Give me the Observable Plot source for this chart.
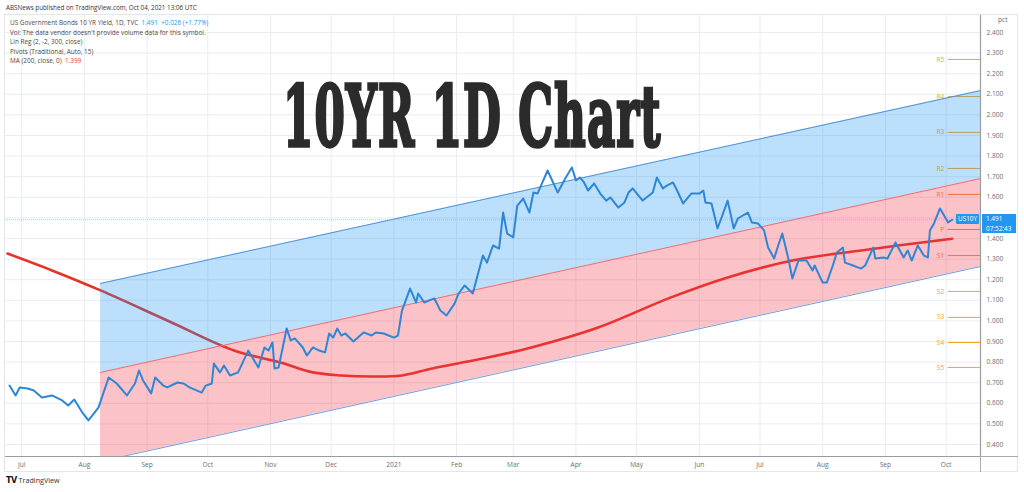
<!DOCTYPE html>
<html><head><meta charset="utf-8">
<script src="https://cdn.jsdelivr.net/npm/d3@7"></script>
<script src="https://cdn.jsdelivr.net/npm/@observablehq/plot@0.6"></script>
<style>
body{margin:0;background:#fff;font-family:"Open Sans",sans-serif;}
#wrap{position:relative;width:1024px;height:492px;overflow:hidden;background:#fff;}
.abs{position:absolute;white-space:nowrap;line-height:1;}
.small{font-size:6.4px;color:#4a4a4a;}
</style></head><body><div id="wrap"></div>
<script>
// ---- data ----
const priceDates = ["2020-06-25","2020-06-28","2020-06-30","2020-07-04","2020-07-07","2020-07-11","2020-07-16","2020-07-21","2020-07-24","2020-07-27","2020-07-31","2020-08-03","2020-08-06","2020-08-08","2020-08-13","2020-08-17","2020-08-22","2020-08-26","2020-08-28","2020-08-30","2020-09-03","2020-09-05","2020-09-09","2020-09-11","2020-09-16","2020-09-19","2020-09-22","2020-09-28","2020-09-30","2020-10-03","2020-10-04","2020-10-07","2020-10-09","2020-10-12","2020-10-16","2020-10-21","2020-10-26","2020-10-29","2020-10-31","2020-11-02","2020-11-03","2020-11-05","2020-11-09","2020-11-11","2020-11-13","2020-11-17","2020-11-19","2020-11-22","2020-11-25","2020-11-28","2020-11-30","2020-12-02","2020-12-04","2020-12-06","2020-12-08","2020-12-12","2020-12-17","2020-12-21","2020-12-23","2020-12-27","2021-01-01","2021-01-03","2021-01-05","2021-01-09","2021-01-12","2021-01-13","2021-01-16","2021-01-21","2021-01-24","2021-01-27","2021-01-31","2021-02-02","2021-02-05","2021-02-09","2021-02-14","2021-02-16","2021-02-19","2021-02-22","2021-02-24","2021-02-26","2021-03-01","2021-03-03","2021-03-06","2021-03-09","2021-03-11","2021-03-13","2021-03-18","2021-03-23","2021-03-27","2021-03-30","2021-04-01","2021-04-03","2021-04-05","2021-04-07","2021-04-10","2021-04-13","2021-04-16","2021-04-18","2021-04-22","2021-04-25","2021-04-27","2021-04-29","2021-05-04","2021-05-09","2021-05-11","2021-05-14","2021-05-16","2021-05-19","2021-05-21","2021-05-24","2021-05-28","2021-06-01","2021-06-03","2021-06-04","2021-06-07","2021-06-10","2021-06-12","2021-06-15","2021-06-18","2021-06-20","2021-06-25","2021-06-27","2021-06-30","2021-07-03","2021-07-05","2021-07-08","2021-07-10","2021-07-12","2021-07-15","2021-07-17","2021-07-20","2021-07-24","2021-07-27","2021-07-28","2021-08-01","2021-08-03","2021-08-06","2021-08-08","2021-08-11","2021-08-12","2021-08-16","2021-08-20","2021-08-22","2021-08-26","2021-08-27","2021-08-31","2021-09-02","2021-09-06","2021-09-10","2021-09-12","2021-09-14","2021-09-17","2021-09-20","2021-09-22","2021-09-23","2021-09-25","2021-09-28","2021-10-02","2021-10-04"];
const priceValues = [0.686,0.638,0.677,0.672,0.662,0.628,0.638,0.614,0.589,0.618,0.555,0.517,0.555,0.580,0.725,0.696,0.638,0.696,0.759,0.711,0.648,0.725,0.686,0.677,0.701,0.696,0.677,0.652,0.686,0.696,0.793,0.750,0.783,0.735,0.750,0.856,0.774,0.871,0.856,0.895,0.769,0.774,0.963,0.905,0.915,0.871,0.832,0.871,0.856,0.847,0.939,0.919,0.963,0.929,0.939,0.900,0.944,0.929,0.944,0.939,0.919,0.929,1.050,1.157,1.089,1.133,1.089,1.109,1.050,1.026,1.084,1.133,1.172,1.133,1.317,1.283,1.366,1.351,1.526,1.424,1.405,1.560,1.594,1.526,1.623,1.618,1.730,1.623,1.696,1.745,1.682,1.696,1.672,1.633,1.667,1.618,1.584,1.599,1.550,1.575,1.623,1.643,1.584,1.623,1.696,1.643,1.657,1.672,1.633,1.570,1.618,1.618,1.633,1.575,1.570,1.449,1.502,1.584,1.449,1.497,1.526,1.478,1.473,1.439,1.356,1.303,1.366,1.424,1.303,1.206,1.293,1.293,1.245,1.269,1.186,1.186,1.269,1.332,1.356,1.283,1.269,1.254,1.269,1.356,1.303,1.308,1.303,1.381,1.308,1.342,1.293,1.366,1.317,1.308,1.439,1.473,1.546,1.478,1.491];

const maDates = ["2020-06-24","2020-07-16","2020-08-09","2020-09-11","2020-10-14","2020-11-06","2020-11-22","2020-12-06","2020-12-21","2021-01-05","2021-01-20","2021-02-14","2021-03-10","2021-04-12","2021-05-18","2021-06-15","2021-07-17","2021-08-20","2021-10-04"];
const maValues = [1.327,1.245,1.148,1.002,0.856,0.798,0.750,0.735,0.730,0.735,0.769,0.817,0.871,0.968,1.114,1.211,1.293,1.342,1.399];

const channelDates = ["2020-08-09","2021-10-18"];
const channelUpper = [1.182,2.118];
const channelMiddle = [0.750,1.691];
const channelLower = [0.318,1.264];

const pivotNames = ["R5","R4","R3","R2","R1","P","S1","S2","S3","S4","S5"];
const pivotValues = [2.269,2.089,1.915,1.740,1.614,1.444,1.317,1.143,1.017,0.895,0.774];
const pivotStartDate = "2021-10-02";

const yTickValues = [0.4,0.5,0.6,0.7,0.8,0.9,1.0,1.1,1.2,1.3,1.4,1.5,1.6,1.7,1.8,1.9,2.0,2.1,2.2,2.3,2.4];
const xDomainDates = ["2020-06-23","2021-10-18"];
const yDomain = [0.3417,2.4825];
const lastPrice = 1.491;
const lastPriceLabel = "1.491";
const lastTime = "07:52:43";
const symbol = "US10Y";

// ---- build ----
const parse = d3.utcParse("%Y-%m-%d");
const price = priceDates.map((d,i)=>({date:parse(d), value:priceValues[i]}));
const ma = maDates.map((d,i)=>({date:parse(d), value:maValues[i]}));
const channel = channelDates.map((d,i)=>({date:parse(d), upper:channelUpper[i], middle:channelMiddle[i], lower:channelLower[i]}));
const pivots = pivotNames.map((n,i)=>({name:n, value:pivotValues[i]}));
const xDomain = xDomainDates.map(parse);
const pivotStart = parse(pivotStartDate);
const monthTicks = d3.utcMonth.range(parse("2020-07-01"), parse("2021-10-02"));
const fmtMonth = d => d.getUTCMonth()===0 ? String(d.getUTCFullYear()) : d3.utcFormat("%b")(d);
const pivotColor = d => (d.name==="R1"||d.name==="S1"||d.name==="P") ? "#f08a3c" : "#f5a623";

const chart = Plot.plot({
  width:1024, height:492,
  marginLeft:5, marginRight:44, marginTop:15, marginBottom:36,
  style:{background:"transparent", fontFamily:"Open Sans, sans-serif", fontSize:"6.6px", color:"#6a6d78", overflow:"visible"},
  x:{type:"utc", domain:xDomain},
  y:{domain:yDomain},
  marks:[
    Plot.gridY(yTickValues,{stroke:"#e9ecf2", strokeOpacity:1}),
    Plot.gridX(monthTicks,{stroke:"#e9ecf2", strokeOpacity:1}),
    Plot.ruleY(pivots,{y:"value", x1:()=>pivotStart, x2:()=>xDomain[1], stroke:pivotColor, strokeWidth:1}),
    Plot.text(pivots,{x:()=>pivotStart, y:"value", text:"name", textAnchor:"end", dx:-4, fill:pivotColor, fontSize:6.5}),
    Plot.line(ma,{x:"date", y:"value", stroke:"#e53327", strokeWidth:2.6, curve:"catmull-rom"}),
    Plot.areaY(channel,{x:"date", y1:"middle", y2:"upper", fill:"#2196f3", fillOpacity:0.3, clip:true}),
    Plot.areaY(channel,{x:"date", y1:"lower", y2:"middle", fill:"#f23645", fillOpacity:0.3, clip:true}),
    Plot.line(channel,{x:"date", y:"upper", stroke:"#4f93d8", strokeWidth:1, clip:true}),
    Plot.line(channel,{x:"date", y:"middle", stroke:"#e8707a", strokeWidth:1, clip:true}),
    Plot.line(channel,{x:"date", y:"lower", stroke:"#6f9fd8", strokeWidth:1, clip:true}),
    Plot.ruleY([lastPrice],{stroke:"#7dbdf3", strokeOpacity:0.7, strokeWidth:1, strokeDasharray:"1,1"}),
    Plot.line(price,{x:"date", y:"value", stroke:"#2e86d6", strokeWidth:2, strokeLinejoin:"round"}),
    Plot.ruleY([yDomain[0]],{stroke:"#9a9ca3", strokeWidth:1.2}),
    Plot.ruleX([xDomain[1]],{stroke:"#9a9ca3", strokeWidth:1.2}),
    Plot.axisX(monthTicks,{tickFormat:fmtMonth, tickSize:0, tickPadding:6, label:null, fill:"#6a6d78"}),
    Plot.axisY(yTickValues,{anchor:"right", tickFormat:d3.format(".3f"), tickSize:0, tickPadding:6, label:null, fill:"#6a6d78"})
  ]
});

const wrap = document.getElementById("wrap");
wrap.appendChild(chart);
chart.style.position = "absolute"; chart.style.left = "0"; chart.style.top = "0";

function add(html, css, cls){ const d=document.createElement("div"); d.className="abs "+(cls||""); d.innerHTML=html; Object.assign(d.style, css); wrap.appendChild(d); return d; }

// panel border and axis extensions
add("", {left:"4px", top:"14px", width:"1014px", height:"458px", border:"1px solid #e3e6ec", boxSizing:"border-box"});
add("", {left:"980px", top:"456px", width:"38px", height:"1px", background:"#a8aab0"});
add("", {left:"979.5px", top:"456px", width:"1px", height:"16px", background:"#a8aab0"});

// header texts
add("ABSNews published on TradingView.com, Oct 04, 2021 13:06 UTC", {left:"6px", top:"5px", fontSize:"6.3px", color:"#333"});
add('US Government Bonds 10 YR Yield, 1D, TVC <span style="color:#2196f3">&nbsp;1.491 &nbsp;+0.026 (+1.77%)</span>', {left:"10px", top:"20px"}, "small");
add("Vol: The data vendor doesn't provide volume data for this symbol.", {left:"10px", top:"29.5px"}, "small");
add("Lin Reg (2, -2, 300, close)", {left:"10px", top:"39px"}, "small");
add("Pivots (Traditional, Auto, 15)", {left:"10px", top:"48.5px"}, "small");
add('MA (200, close, 0) <span style="color:#f23645">&nbsp;1.399</span>', {left:"10px", top:"58px"}, "small");

// title
add("10YR 1D Chart", {left:"283px", top:"75px", fontFamily:"'DejaVu Serif', serif", fontWeight:"bold", fontSize:"84px", color:"#2b2b2b", transform:"scaleX(0.52)", transformOrigin:"0 0", WebkitTextStroke:"3.5px #2b2b2b", letterSpacing:"2px"});

// pct
add("pct", {left:"998px", top:"17px", fontSize:"6.6px", color:"#6a6d78"});

// last price labels positioned through the y scale
const yPix = chart.scale("y").apply(lastPrice);
add(symbol, {left:"956px", top:(yPix-5)+"px", height:"10px", padding:"0 2px", background:"#2196f3", color:"#fff", fontSize:"6.4px", lineHeight:"10px", borderRadius:"1px"});
add(lastPriceLabel+"<br>"+lastTime, {left:"982px", top:(yPix-5)+"px", width:"34px", height:"19px", padding:"0 0 0 4px", background:"#2196f3", color:"#fff", fontSize:"6.4px", lineHeight:"9.5px", boxSizing:"border-box"});

// footer logo
add('<b style="font-family:\'DejaVu Sans\';font-size:8px;color:#131722;letter-spacing:-0.5px">TV</b> <span style="color:#333">TradingView</span>', {left:"6px", top:"477px", fontSize:"7.2px"});
</script></body></html>
